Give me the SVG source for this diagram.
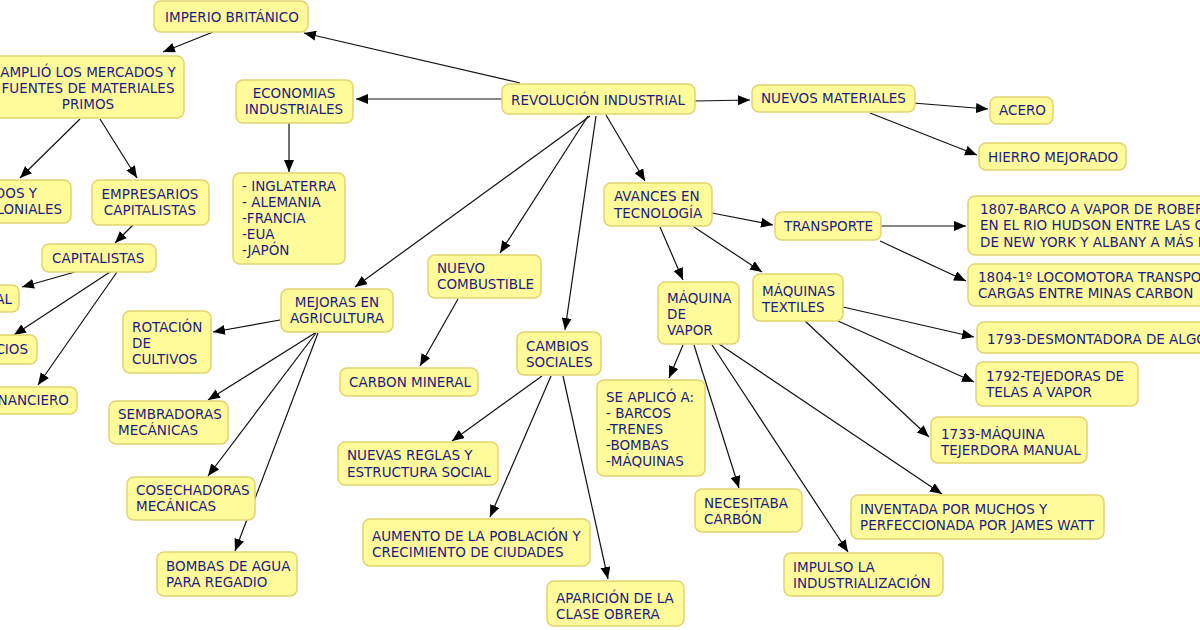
<svg xmlns="http://www.w3.org/2000/svg" width="1200" height="630" viewBox="0 0 1200 630">
<defs>
<marker id="ah" markerUnits="userSpaceOnUse" markerWidth="13" markerHeight="11" refX="12" refY="5" orient="auto">
<path d="M0,0 L12,5 L0,10 z" fill="#000"/>
</marker>
<style>
.n rect{fill:#fffb9a;stroke:#e2d470;stroke-width:1.5}
.n text{font-family:"DejaVu Sans",Verdana,sans-serif;font-size:13.5px;fill:#1c1c82}
.c line{stroke:#111;stroke-width:1.2;marker-end:url(#ah)}
</style>
</defs>
<rect width="1200" height="630" fill="#fff"/>
<g class="c">
<line x1="213" y1="32" x2="163" y2="52"/>
<line x1="520" y1="83" x2="304" y2="33"/>
<line x1="502" y1="99" x2="356" y2="99"/>
<line x1="695" y1="101" x2="750" y2="100"/>
<line x1="606" y1="115" x2="645" y2="181"/>
<line x1="590" y1="116" x2="355" y2="287"/>
<line x1="588" y1="116" x2="500" y2="253"/>
<line x1="596" y1="116" x2="565" y2="330"/>
<line x1="913" y1="103" x2="988" y2="109"/>
<line x1="870" y1="113" x2="977" y2="155"/>
<line x1="289" y1="123" x2="289" y2="172"/>
<line x1="80" y1="119" x2="20" y2="178"/>
<line x1="100" y1="119" x2="137" y2="178"/>
<line x1="133" y1="225" x2="115" y2="243"/>
<line x1="75" y1="272" x2="22" y2="287"/>
<line x1="110" y1="272" x2="14" y2="335"/>
<line x1="117" y1="272" x2="38" y2="385"/>
<line x1="280" y1="320" x2="213" y2="332"/>
<line x1="315" y1="333" x2="208" y2="400"/>
<line x1="316" y1="333" x2="208" y2="476"/>
<line x1="318" y1="333" x2="235" y2="551"/>
<line x1="458" y1="299" x2="420" y2="366"/>
<line x1="542" y1="376" x2="452" y2="441"/>
<line x1="551" y1="376" x2="490" y2="517"/>
<line x1="563" y1="376" x2="608" y2="579"/>
<line x1="712" y1="213" x2="773" y2="225"/>
<line x1="660" y1="227" x2="683" y2="280"/>
<line x1="694" y1="227" x2="762" y2="272"/>
<line x1="881" y1="226" x2="966" y2="226"/>
<line x1="880" y1="241" x2="966" y2="281"/>
<line x1="843" y1="307" x2="974" y2="337"/>
<line x1="838" y1="321" x2="974" y2="382"/>
<line x1="805" y1="321" x2="929" y2="437"/>
<line x1="683" y1="345" x2="669" y2="378"/>
<line x1="694" y1="345" x2="739" y2="488"/>
<line x1="712" y1="345" x2="848" y2="552"/>
<line x1="719" y1="344" x2="942" y2="494"/>
</g>
<g id="imperio" class="n"><rect x="154" y="1" width="154" height="31" rx="7"/><text x="165" y="22">IMPERIO BRITÁNICO</text></g>
<g id="amplio" class="n"><rect x="-10" y="56" width="194" height="62" rx="7"/><text x="88" y="77" text-anchor="middle">AMPLIÓ LOS MERCADOS Y</text><text x="88" y="93" text-anchor="middle">FUENTES DE MATERIALES</text><text x="88" y="109" text-anchor="middle">PRIMOS</text></g>
<g id="economias" class="n"><rect x="236" y="80" width="117" height="43" rx="7"/><text x="294" y="98" text-anchor="middle">ECONOMIAS</text><text x="294" y="114" text-anchor="middle">INDUSTRIALES</text></g>
<g id="revolucion" class="n"><rect x="502" y="84" width="193" height="30" rx="7"/><text x="511" y="105">REVOLUCIÓN INDUSTRIAL</text></g>
<g id="nuevosmat" class="n"><rect x="752" y="85" width="163" height="27" rx="7"/><text x="761" y="103">NUEVOS MATERIALES</text></g>
<g id="acero" class="n"><rect x="990" y="97" width="63" height="27" rx="7"/><text x="999" y="115">ACERO</text></g>
<g id="hierro" class="n"><rect x="979" y="143" width="147" height="27" rx="7"/><text x="988" y="162">HIERRO MEJORADO</text></g>
<g id="avances" class="n"><rect x="604" y="183" width="108" height="43" rx="7"/><text x="614" y="201">AVANCES EN</text><text x="614" y="218">TECNOLOGÍA</text></g>
<g id="transporte" class="n"><rect x="775" y="212" width="106" height="28" rx="7"/><text x="784" y="231">TRANSPORTE</text></g>
<g id="barco" class="n"><rect x="968" y="196" width="250" height="59" rx="7"/><text x="980" y="214">1807-BARCO A VAPOR DE ROBER</text><text x="980" y="230">EN EL RIO HUDSON ENTRE LAS C</text><text x="980" y="247">DE NEW YORK Y ALBANY A MÁS D</text></g>
<g id="locomotora" class="n"><rect x="968" y="264" width="250" height="42" rx="7"/><text x="978" y="282">1804-1º LOCOMOTORA TRANSPOR</text><text x="978" y="298">CARGAS ENTRE MINAS CARBON</text></g>
<g id="paises" class="n"><rect x="233" y="173" width="112" height="91" rx="7"/><text x="242" y="191">- INGLATERRA</text><text x="242" y="207">- ALEMANIA</text><text x="242" y="223">-FRANCIA</text><text x="242" y="239">-EUA</text><text x="242" y="255">-JAPÓN</text></g>
<g id="colonias" class="n"><rect x="-10" y="180" width="81" height="43" rx="7"/><text x="37" y="198" text-anchor="end">DOS Y</text><text x="62" y="214" text-anchor="end">LONIALES</text></g>
<g id="empresarios" class="n"><rect x="92" y="180" width="117" height="45" rx="7"/><text x="150" y="199" text-anchor="middle">EMPRESARIOS</text><text x="150" y="215" text-anchor="middle">CAPITALISTAS</text></g>
<g id="capitalistas" class="n"><rect x="42" y="244" width="114" height="28" rx="7"/><text x="52" y="263">CAPITALISTAS</text></g>
<g id="al" class="n"><rect x="-10" y="285" width="29" height="27" rx="7"/><text x="12" y="304" text-anchor="end">AL</text></g>
<g id="cios" class="n"><rect x="-10" y="335" width="47" height="29" rx="7"/><text x="28" y="354" text-anchor="end">CIOS</text></g>
<g id="financiero" class="n"><rect x="-10" y="387" width="87" height="27" rx="7"/><text x="69" y="405" text-anchor="end">NANCIERO</text></g>
<g id="mejoras" class="n"><rect x="281" y="289" width="112" height="43" rx="7"/><text x="337" y="307" text-anchor="middle">MEJORAS EN</text><text x="337" y="323" text-anchor="middle">AGRICULTURA</text></g>
<g id="rotacion" class="n"><rect x="123" y="311" width="88" height="62" rx="7"/><text x="132" y="332">ROTACIÓN</text><text x="132" y="348">DE</text><text x="132" y="364">CULTIVOS</text></g>
<g id="sembradoras" class="n"><rect x="109" y="401" width="119" height="43" rx="7"/><text x="118" y="419">SEMBRADORAS</text><text x="118" y="435">MECÁNICAS</text></g>
<g id="cosechadoras" class="n"><rect x="127" y="477" width="128" height="43" rx="7"/><text x="136" y="495">COSECHADORAS</text><text x="136" y="511">MECÁNICAS</text></g>
<g id="bombas" class="n"><rect x="157" y="552" width="140" height="44" rx="7"/><text x="166" y="571">BOMBAS DE AGUA</text><text x="166" y="587">PARA REGADIO</text></g>
<g id="combustible" class="n"><rect x="428" y="255" width="113" height="43" rx="7"/><text x="437" y="273">NUEVO</text><text x="437" y="289">COMBUSTIBLE</text></g>
<g id="carbon" class="n"><rect x="340" y="368" width="138" height="28" rx="7"/><text x="349" y="387">CARBON MINERAL</text></g>
<g id="cambios" class="n"><rect x="517" y="332" width="84" height="43" rx="7"/><text x="526" y="351">CAMBIOS</text><text x="526" y="367">SOCIALES</text></g>
<g id="reglas" class="n"><rect x="338" y="442" width="160" height="43" rx="7"/><text x="347" y="460">NUEVAS REGLAS Y</text><text x="347" y="477">ESTRUCTURA SOCIAL</text></g>
<g id="aumento" class="n"><rect x="363" y="519" width="227" height="47" rx="7"/><text x="372" y="541">AUMENTO DE LA POBLACIÓN Y</text><text x="372" y="557">CRECIMIENTO DE CIUDADES</text></g>
<g id="aparicion" class="n"><rect x="547" y="581" width="137" height="45" rx="7"/><text x="556" y="603">APARICIÓN DE LA</text><text x="556" y="619">CLASE OBRERA</text></g>
<g id="maquinavapor" class="n"><rect x="658" y="282" width="81" height="62" rx="7"/><text x="667" y="303">MÁQUINA</text><text x="667" y="319">DE</text><text x="667" y="335">VAPOR</text></g>
<g id="textiles" class="n"><rect x="753" y="274" width="90" height="47" rx="7"/><text x="762" y="296">MÁQUINAS</text><text x="762" y="312">TEXTILES</text></g>
<g id="seaplico" class="n"><rect x="597" y="380" width="108" height="96" rx="7"/><text x="606" y="402">SE APLICÓ A:</text><text x="606" y="418">- BARCOS</text><text x="606" y="434">-TRENES</text><text x="606" y="450">-BOMBAS</text><text x="606" y="466">-MÁQUINAS</text></g>
<g id="necesitaba" class="n"><rect x="695" y="489" width="107" height="43" rx="7"/><text x="704" y="508">NECESITABA</text><text x="704" y="524">CARBÓN</text></g>
<g id="impulso" class="n"><rect x="784" y="553" width="159" height="43" rx="7"/><text x="793" y="572">IMPULSO LA</text><text x="793" y="588">INDUSTRIALIZACIÓN</text></g>
<g id="inventada" class="n"><rect x="851" y="495" width="253" height="44" rx="7"/><text x="860" y="514">INVENTADA POR MUCHOS Y</text><text x="860" y="530">PERFECCIONADA POR JAMES WATT</text></g>
<g id="desmontadora" class="n"><rect x="977" y="322" width="240" height="31" rx="7"/><text x="987" y="344">1793-DESMONTADORA DE ALGO</text></g>
<g id="tejedoras" class="n"><rect x="976" y="362" width="162" height="44" rx="7"/><text x="986" y="381">1792-TEJEDORAS DE</text><text x="986" y="397">TELAS A VAPOR</text></g>
<g id="tejerdora" class="n"><rect x="931" y="417" width="156" height="46" rx="7"/><text x="941" y="439">1733-MÁQUINA</text><text x="941" y="455">TEJERDORA MANUAL</text></g>
</svg>
